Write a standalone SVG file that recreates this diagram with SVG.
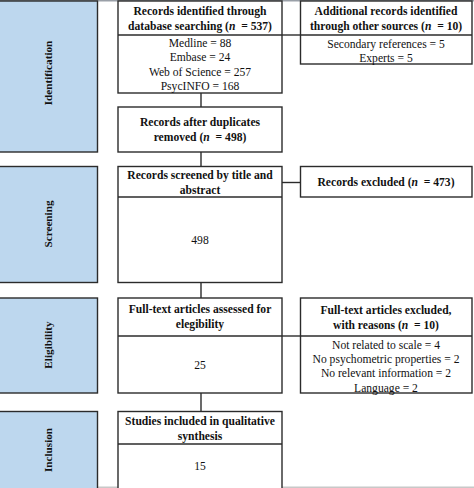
<svg xmlns="http://www.w3.org/2000/svg" width="474" height="488" viewBox="0 0 474 488">
<style>
.box{fill:#ffffff;stroke:#2b2b2b;stroke-width:1.4}
.side{fill:#bdd7ee;stroke:#2b2b2b;stroke-width:1.4}
.ln{stroke:#2b2b2b;stroke-width:1.4;fill:none}
.b{font-family:"Liberation Serif","Times New Roman",serif;font-weight:bold;font-size:11.6px;fill:#111;text-anchor:middle}
.r{font-family:"Liberation Serif","Times New Roman",serif;font-size:11.6px;fill:#111;text-anchor:middle}
.s{font-family:"Liberation Serif","Times New Roman",serif;font-weight:bold;font-size:11.2px;fill:#111;text-anchor:middle}
.i{font-style:italic}
</style>
<rect x="0" y="0" width="474" height="488" fill="#ffffff"/>
<rect x="0" y="0" width="474" height="1.5" fill="#9aa0a8"/>
<rect x="0" y="486.5" width="474" height="1.5" fill="#c8c8c8"/>

<g id="side-identification">
<rect class="side" x="-1" y="1" width="98.5" height="151"/>
<text class="s" transform="translate(52,73) rotate(-90)">Identification</text>
</g>
<g id="side-screening">
<rect class="side" x="-1" y="166.5" width="98.5" height="116"/>
<text class="s" transform="translate(52,224) rotate(-90)">Screening</text>
</g>
<g id="side-eligibility">
<rect class="side" x="-1" y="298" width="98.5" height="95"/>
<text class="s" transform="translate(52,345) rotate(-90)">Eligibility</text>
</g>
<g id="side-inclusion">
<rect class="side" x="-1" y="411.5" width="98.5" height="80"/>
<text class="s" transform="translate(52,450) rotate(-90)">Inclusion</text>
</g>

<g id="connectors">
<line class="ln" x1="201" y1="93" x2="201" y2="107"/>
<line class="ln" x1="201" y1="152" x2="201" y2="166.5"/>
<line class="ln" x1="201" y1="282.5" x2="201" y2="298"/>
<line class="ln" x1="201" y1="393" x2="201" y2="411.5"/>
<line class="ln" x1="282" y1="35" x2="300.5" y2="35"/>
<line class="ln" x1="282" y1="182.5" x2="300.5" y2="182.5"/>
<line class="ln" x1="282" y1="336" x2="300.5" y2="336"/>
</g>

<g id="database-search">
<rect class="box" x="118" y="1" width="164" height="92"/>
<line class="ln" x1="118" y1="35" x2="282" y2="35"/>
<text class="b" x="200" y="15">Records identified through</text>
<text class="b" x="200" y="30">database searching (<tspan class="i">n</tspan>&#160; = 537)</text>
<text class="r" x="200" y="47">Medline = 88</text>
<text class="r" x="200" y="61">Embase = 24</text>
<text class="r" x="200" y="76">Web of Science = 257</text>
<text class="r" x="200" y="90">PsycINFO = 168</text>
</g>

<g id="other-sources">
<rect class="box" x="300.5" y="1" width="171.5" height="63"/>
<line class="ln" x1="300.5" y1="35" x2="472" y2="35"/>
<text class="b" x="386" y="15">Additional records identified</text>
<text class="b" x="386" y="30">through other sources (<tspan class="i">n</tspan>&#160; = 10)</text>
<text class="r" x="386" y="48">Secondary references = 5</text>
<text class="r" x="386" y="62">Experts = 5</text>
</g>

<g id="after-duplicates">
<rect class="box" x="118" y="107" width="164" height="45"/>
<text class="b" x="200" y="126">Records after duplicates</text>
<text class="b" x="200" y="141">removed (<tspan class="i">n</tspan>&#160; = 498)</text>
</g>

<g id="screened">
<rect class="box" x="118" y="166.5" width="164" height="116"/>
<line class="ln" x1="118" y1="197" x2="282" y2="197"/>
<text class="b" x="200" y="179">Records screened by title and</text>
<text class="b" x="200" y="194">abstract</text>
<text class="r" x="200" y="244">498</text>
</g>

<g id="excluded">
<rect class="box" x="300.5" y="166.5" width="171.5" height="30.5"/>
<text class="b" x="386" y="186">Records excluded (<tspan class="i">n</tspan>&#160; = 473)</text>
</g>

<g id="fulltext">
<rect class="box" x="118" y="298" width="164" height="95"/>
<line class="ln" x1="118" y1="336" x2="282" y2="336"/>
<text class="b" x="200" y="313">Full-text articles assessed for</text>
<text class="b" x="200" y="328">elegibility</text>
<text class="r" x="200" y="369">25</text>
</g>

<g id="fulltext-excluded">
<rect class="box" x="300.5" y="298" width="171.5" height="95"/>
<line class="ln" x1="300.5" y1="336" x2="472" y2="336"/>
<text class="b" x="386" y="314">Full-text articles excluded,</text>
<text class="b" x="386" y="329">with reasons (<tspan class="i">n</tspan>&#160; = 10)</text>
<text class="r" x="386" y="349">Not related to scale = 4</text>
<text class="r" x="386" y="363">No psychometric properties = 2</text>
<text class="r" x="386" y="377">No relevant information = 2</text>
<text class="r" x="386" y="392">Language = 2</text>
</g>

<g id="included">
<rect class="box" x="118" y="411.5" width="164" height="80"/>
<line class="ln" x1="118" y1="444" x2="282" y2="444"/>
<text class="b" x="200" y="425">Studies included in qualitative</text>
<text class="b" x="200" y="440">synthesis</text>
<text class="r" x="200" y="470">15</text>
</g>
</svg>
